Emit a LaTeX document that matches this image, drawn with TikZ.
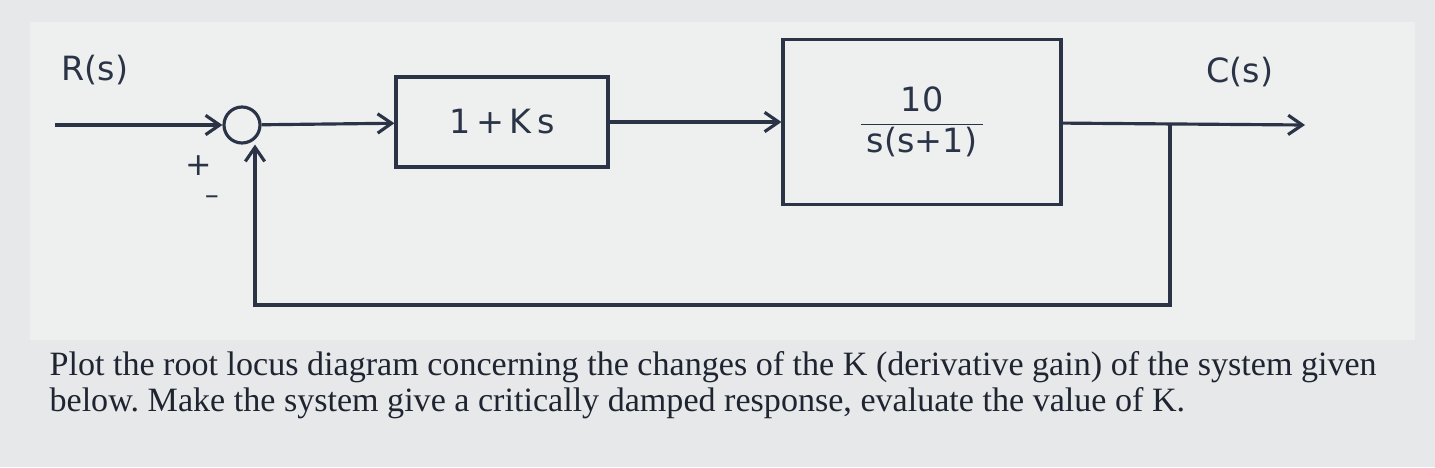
\documentclass[tikz,border=0pt]{standalone}
\usepackage{fontspec}
\usetikzlibrary{arrows.meta}
\setmainfont{Liberation Serif}
\setsansfont{DejaVu Sans}
\definecolor{ink}{HTML}{2B3447}
\definecolor{paper}{HTML}{E6E8E9}
\definecolor{panel}{HTML}{EEF0F0}
\definecolor{printed}{HTML}{1F2431}
\tikzset{
  sumnode/.style={draw=ink, circle, line width=1.8pt, minimum size=0.72cm, inner sep=0pt},
  blockbox/.style={draw=ink, line width=1.8pt, inner sep=0pt},
  hand/.style={text=ink, font=\sffamily\fontsize{19}{22}\selectfont},
  question/.style={text=printed, anchor=base west, inner sep=0pt, font=\fontsize{19.4}{23}\selectfont}
}
\begin{document}
\frenchspacing
\begin{tikzpicture}[x=0.02cm, y=-0.02cm, line width=1.8pt, >={Straight Barb[length=8pt, width=11pt]}]
        \fill[paper] (0,0) rectangle (1435,467);
        \fill[panel] (30,22) rectangle (1415,340);
        \useasboundingbox (0,0) rectangle (1435,467);

        \node[sumnode] at (242,125) (sum) {};
        \node[blockbox, minimum width=4.24cm, minimum height=1.8cm] at (502,122) (ctrl) {};
        \node[blockbox, minimum width=5.56cm, minimum height=3.3cm] at (922,122) (plant) {};
        \node[hand] at (ctrl.center) (ctrltxt) {1\,+\,K\,s};
        \node[hand] at (plant.center) (planttxt) {$\displaystyle\frac{\hbox{\,10\,}}{\hbox{\,s(s+1)\,}}$};

        \coordinate (in) at (55,125);
        \coordinate (out) at (1305,125);
        \coordinate (br) at (1170,125);
        \coordinate (fb) at (255,305);

        \node[hand] at (95,70) (rlab) {R(s)};
        \node[hand] at (1240,72) (clab) {C(s)};
        \node[hand, font=\sffamily\fontsize{18}{20}\selectfont] at (199,166) (plus) {+};
        \node[hand, font=\sffamily\fontsize{16}{18}\selectfont] at (212,200) (minus) {--};

        \draw[->, ink] (in) -- (sum);
        \draw[->, ink] (sum) -- (ctrl);
        \draw[->, ink] (ctrl) -- (plant);
        \draw[->, ink] (plant) -- (out);
        \draw[->, ink] (br) |- (fb) -- (fb |- sum.south);

        \node[question] at (48,375) (line1) {Plot the root locus diagram concerning the changes of the K (derivative gain) of the system given};
        \node[question] at (48,411) (line2) {below. Make the system give a critically damped response, evaluate the value of K.};
      \end{tikzpicture}
\end{document}
